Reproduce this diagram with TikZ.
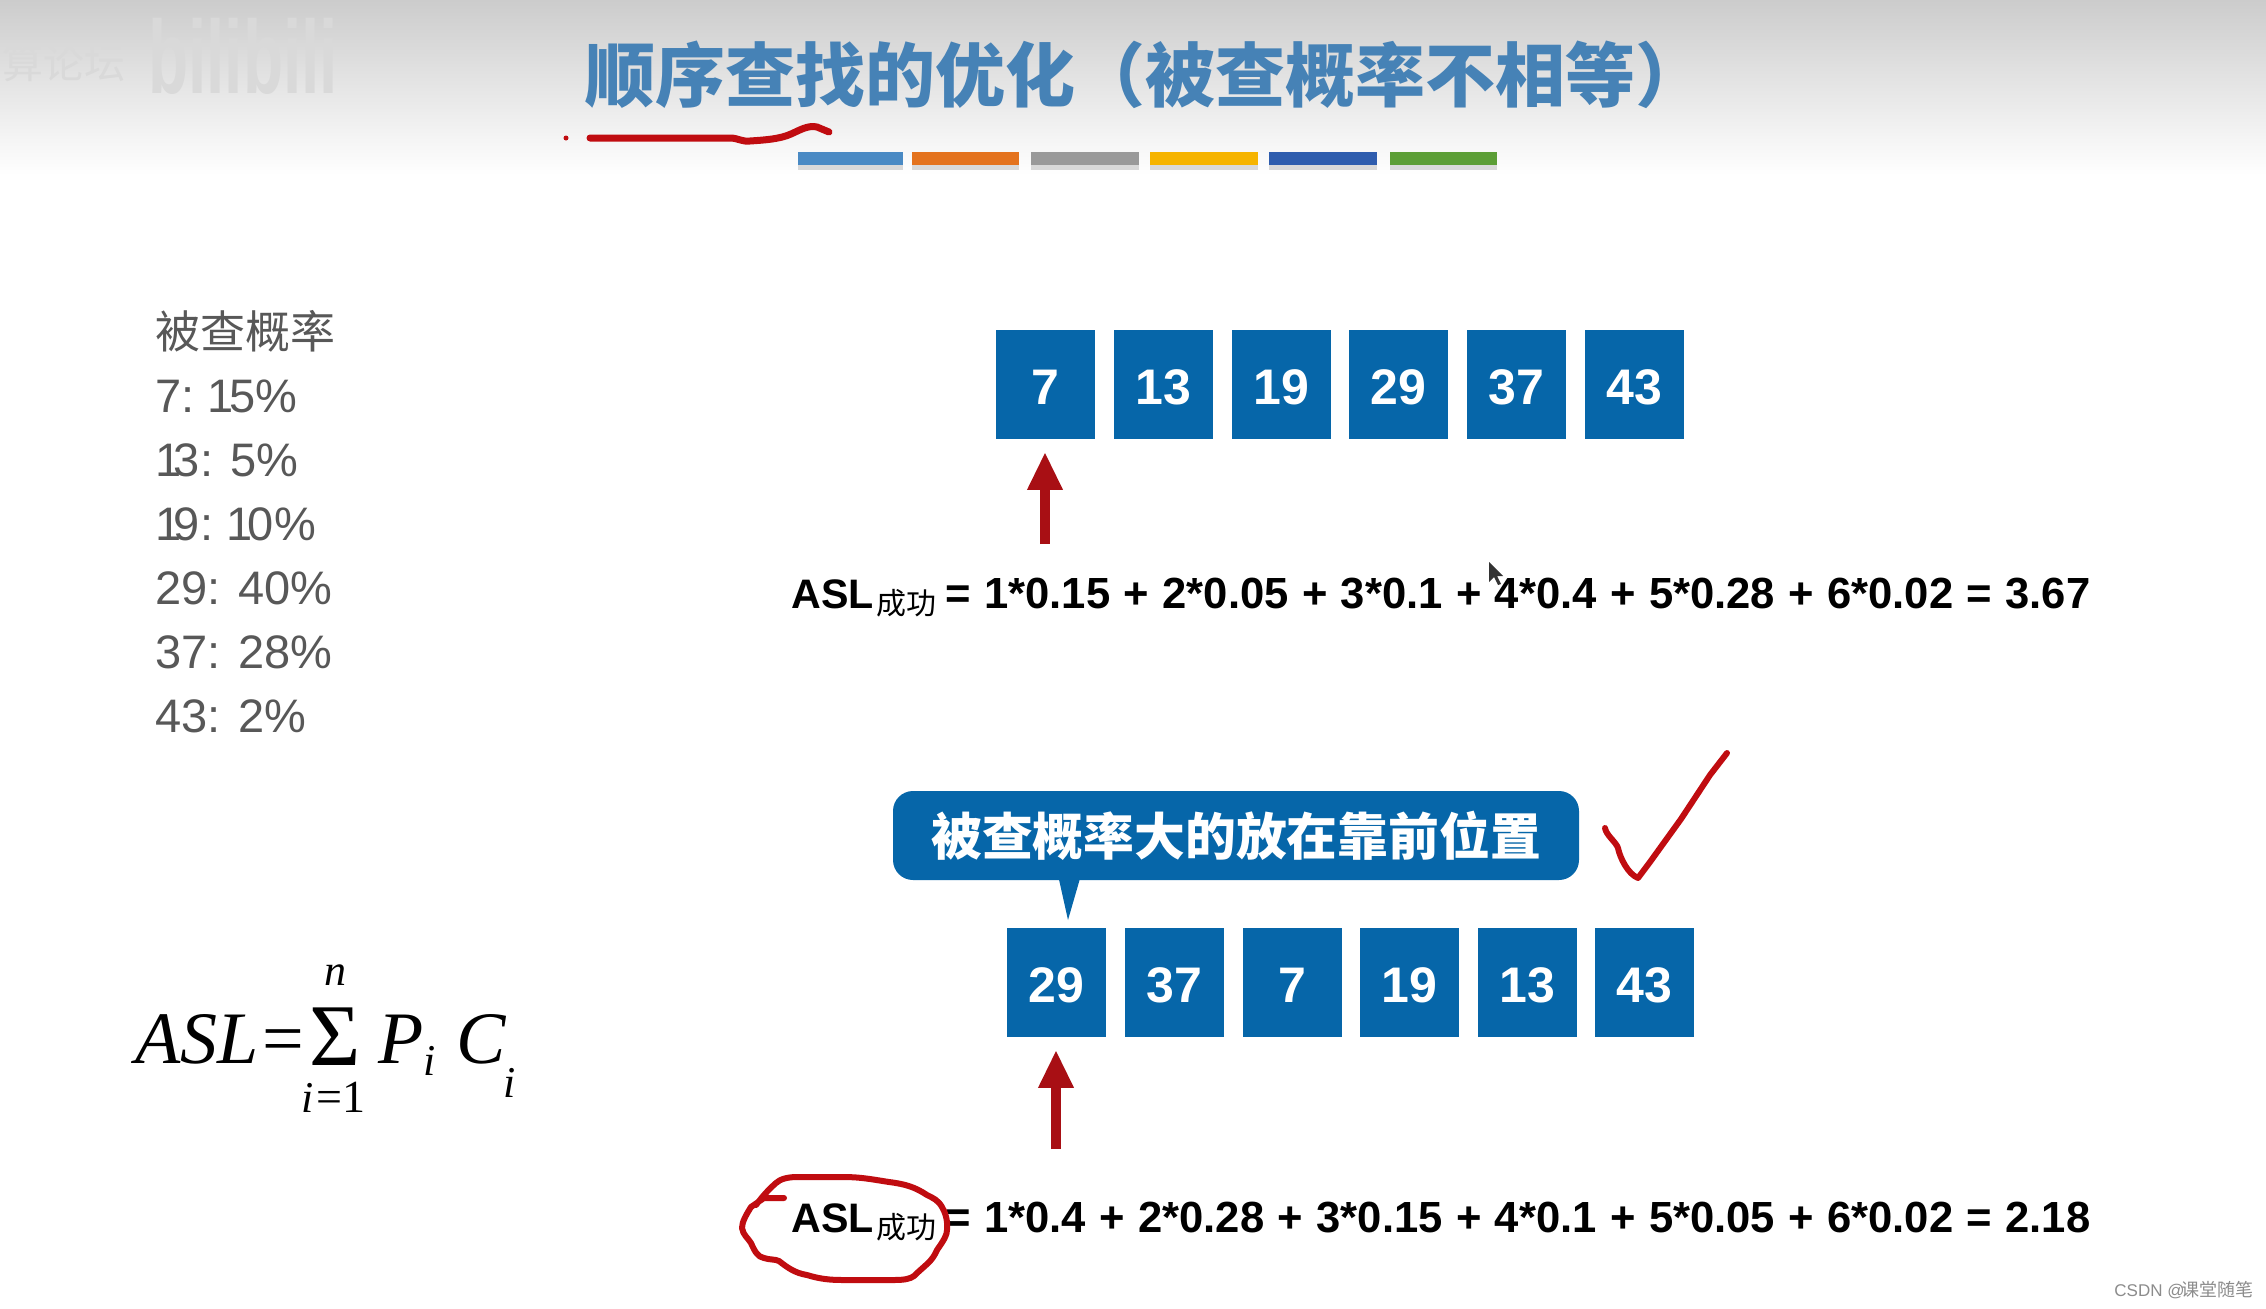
\documentclass[tikz,border=0pt]{standalone}
\usepackage{fontspec}
\usetikzlibrary{arrows.meta}
\setmainfont{Liberation Sans}
\newfontfamily\cjk{Noto Sans CJK SC}
\newfontfamily\timesf{Liberation Serif}
\newcommand{\fs}[1]{\fontsize{#1}{#1}\selectfont}
\newcommand{\oneglyph}{\kern-2.2pt 1\kern-2.2pt }
\newcommand{\firstone}{1\kern-3.8pt }
\newcommand{\wsp}{\spaceskip=6.7pt\relax}
\definecolor{boxblue}{HTML}{0666A9}
\definecolor{titleblue}{HTML}{4682B6}
\definecolor{arrowred}{HTML}{A80F14}
\definecolor{penred}{HTML}{C00C10}
\definecolor{listgray}{HTML}{585858}
\tikzset{
  cell/.style={draw=none,fill=boxblue,text=white,minimum width=49.5pt,minimum height=54.5pt,inner sep=0pt,text height=20pt,text depth=0pt,font=\fs{25}\bfseries},
  listline/.style={anchor=base west,inner sep=0pt,text=listgray,font=\fs{23.5}},
  eqn/.style={anchor=base west,inner sep=0pt,text=black,font=\fs{20.6}\bfseries},
  eqnlong/.style={anchor=base west,inner sep=0pt,text=black,font=\fs{21.8}\bfseries},
  sub/.style={anchor=base west,inner sep=0pt,text=black,font=\fs{15}\cjk},
  redarrow/.style={draw=arrowred,line width=5pt,-{Triangle[width=16.5pt,length=19pt]},shorten >=6.5pt},
  pen/.style={draw=penred,line width=3pt,line cap=round,line join=round},
  mathi/.style={anchor=base west,inner sep=0pt,text=black,font=\timesf\itshape\fs{37}},
  maths/.style={anchor=base west,inner sep=0pt,text=black,font=\timesf\itshape\fs{22}}
}
\begin{document}
\begin{tikzpicture}[x=0.5pt,y=-0.5pt]
\useasboundingbox (0,0) rectangle (2266,1308);
\fill[white] (0,0) rectangle (2266,1308);
\shade[top color=black!20,bottom color=white] (0,0) rectangle (2266,175);
% watermark
\node[anchor=base west,inner sep=0pt,text=black!15,font=\fs{20.5}\cjk] (wm1) at (2,78) {算论坛};
\node[anchor=base west,inner sep=0pt,text=black!15,font=\fs{40}\bfseries,xscale=.82,yscale=1.3,transform shape] (wm2) at (148,93) {bilibili};
% title
\node[anchor=base west,inner sep=0pt,text=titleblue,font=\fs{35}\cjk\bfseries] (title) at (585,101) {顺序查找的优化（被查概率不相等）};
% bars
\foreach \a/\b/\c in {798/903/4A8AC4,912/1019/E4731E,1031/1139/9A9A9A,1150/1258/F6B400,1269/1377/2F5DAE,1390/1497/5C9E36}{
  \definecolor{barc}{HTML}{\c}
  \fill[black!15] (\a,156) rectangle (\b,170);
  \fill[barc] (\a,152) rectangle (\b,165);
}
% underline
\fill[penred] (566,138) circle (2.5);
\draw[pen,line width=3.5pt] (590,138) -- (730,138) .. controls (738,138) and (742,142) .. (750,141) .. controls (765,140) and (780,139) .. (791,134) .. controls (800,130) and (808,125) .. (817,127) -- (829,132);
% probability list
\node[anchor=base west,inner sep=0pt,text=listgray,font=\fs{22.5}\cjk] (l0) at (155,348) {被查概率};
\node[listline] (l1) at (155,412) {7: \oneglyph 5\%};
\node[listline] (l2) at (155,476) {\firstone 3: 5\%};
\node[listline] (l3) at (155,540) {\firstone 9: \oneglyph 0\%};
\node[listline] (l4) at (155,604) {29: 40\%};
\node[listline] (l5) at (155,668) {37: 28\%};
\node[listline] (l6) at (155,732) {43: 2\%};
% top row
\node[cell] (a1) at (1045,384) {7};
\node[cell] (a2) at (1163,384) {13};
\node[cell] (a3) at (1281,384) {19};
\node[cell] (a4) at (1398,384) {29};
\node[cell] (a5) at (1516,384) {37};
\node[cell] (a6) at (1634,384) {43};
\coordinate (a0) at (1045,544);
\draw[redarrow] (a0) -- (a1.south);
% top equation
\node[eqn] (e1a) at (791,608) {ASL};
\node[sub] (e1b) at (876,614) {成功};
\node[eqnlong] (e1c) at (945,608) {\wsp = 1*0.15 + 2*0.05 + 3*0.1 + 4*0.4 + 5*0.28 + 6*0.02 = 3.67};
% cursor
\fill[black!80] (1489,562) -- (1489,582) -- (1494,577) -- (1498,585) -- (1501,584) -- (1497,576) -- (1503,576) -- cycle;
% callout
\fill[boxblue] (1058,875) -- (1081,875) -- (1068,920) -- cycle;
\node[fill=boxblue,rounded corners=10pt,minimum width=343pt,minimum height=44.5pt,inner sep=0pt,text=white,font=\fs{25.4}\cjk\bfseries] (callout) at (1236,835.5) {被查概率大的放在靠前位置};
% check mark
\draw[pen] (1605,828) .. controls (1606,835) and (1616,842) .. (1618,848) .. controls (1620,858) and (1628,874) .. (1638,878) -- (1650,862) -- (1681,819) -- (1710,775) -- (1727,753);
% bottom row
\node[cell] (b1) at (1056,982) {29};
\node[cell] (b2) at (1174,982) {37};
\node[cell] (b3) at (1292,982) {7};
\node[cell] (b4) at (1409,982) {19};
\node[cell] (b5) at (1527,982) {13};
\node[cell] (b6) at (1644,982) {43};
\coordinate (b0) at (1056,1149);
\draw[redarrow] (b0) -- (b1.south);
% bottom equation
\node[eqn] (e2a) at (791,1232) {ASL};
\node[sub] (e2b) at (876,1238) {成功};
\node[eqnlong] (e2c) at (945,1232) {\wsp = 1*0.4 + 2*0.28 + 3*0.15 + 4*0.1 + 5*0.05 + 6*0.02 = 2.18};
% circle
\draw[pen] (784,1198) -- (764,1198) -- (751,1207) .. controls (746,1215) and (742,1222) .. (742,1228) .. controls (743,1235) and (748,1238) .. (751,1243) .. controls (755,1252) and (758,1257) .. (764,1258) .. controls (770,1260) and (775,1259) .. (779,1261) .. controls (788,1268) and (795,1273) .. (807,1275) .. controls (820,1279) and (830,1280) .. (843,1280) -- (894,1280) .. controls (904,1280) and (910,1279) .. (914,1276) .. controls (925,1265) and (932,1262) .. (937,1250) .. controls (944,1240) and (947,1235) .. (947,1230) .. controls (948,1220) and (945,1212) .. (942,1207) .. controls (938,1200) and (933,1198) .. (927,1195) .. controls (915,1187) and (905,1184) .. (889,1182) .. controls (870,1179) and (860,1177) .. (843,1177) -- (797,1177) .. controls (788,1177) and (780,1179) .. (776,1183) .. controls (768,1190) and (762,1197) .. (756,1205);
% formula
\node[mathi] (m1) at (135,1063) {ASL};
\node[anchor=base west,inner sep=0pt,font=\timesf\fs{37}] (m2) at (262,1063) {=};
\node[anchor=base west,inner sep=0pt,font=\timesf\fs{44}] (m3) at (309,1065) {Σ};
\node[maths] (m4) at (324,985) {n};
\node[maths] (m5) at (301,1112) {i};
\node[anchor=base west,inner sep=0pt,font=\timesf\fs{23}] (m6) at (316,1112) {=1};
\node[mathi] (m7) at (378,1063) {P};
\node[maths] (m8) at (423,1075) {i};
\node[mathi] (m9) at (456,1063) {C};
\node[maths] (m10) at (503,1097) {i};
% credit
\node[anchor=base west,inner sep=0pt,text=black!45,font=\fs{8.5}] (cs1) at (2114,1296) {CSDN @};
\node[anchor=base west,inner sep=0pt,text=black!45,font=\fs{9}\cjk] (cs2) at (2181,1296) {课堂随笔};
\end{tikzpicture}
\end{document}
